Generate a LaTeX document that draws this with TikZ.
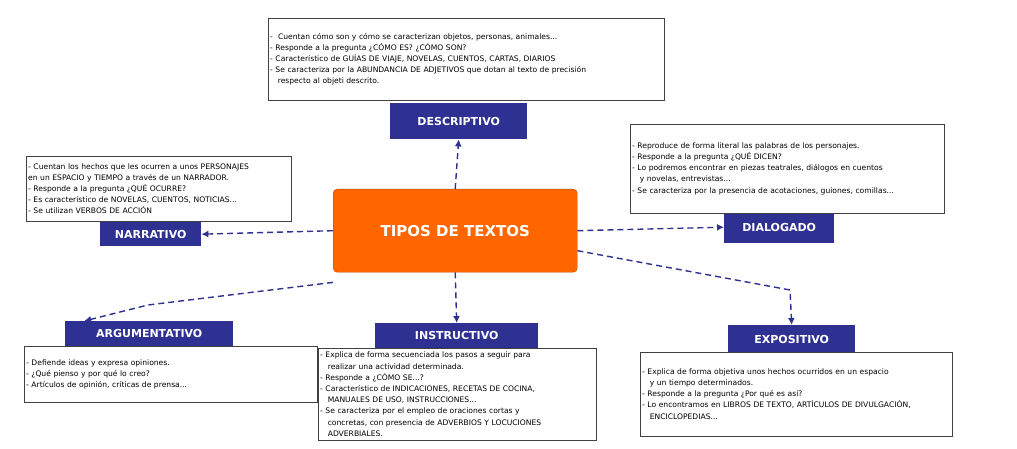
\documentclass[tikz,border=0pt]{standalone}
\usepackage{fontspec}
\setmainfont{DejaVu Sans}
\begin{document}
\begin{tikzpicture}[x=1pt,y=-1pt,
 txt/.style={draw=black!75,fill=white,anchor=north west,align=left,font=\fontsize{7.6}{11.2}\selectfont,inner xsep=2pt,inner ysep=3pt,drop shadow/.try},
 lab/.style={fill=navy,text=white,font=\bfseries\fontsize{11}{13}\selectfont,anchor=north west,inner sep=0pt,align=center},
 con/.style={draw=navy,dashed,line width=1.4pt,dash pattern=on 6pt off 4pt,-{Latex[length=7pt,width=7pt]}}]
\usetikzlibrary{arrows.meta}
\definecolor{navy}{HTML}{2E3192}
\definecolor{orng}{HTML}{FF6600}
\useasboundingbox (0,0) rectangle (1017,449);
% central
\node[fill=orng,draw=orng!70!black,rounded corners=4pt,minimum width=244pt,minimum height=83pt,anchor=north west,text=white,font=\bfseries\fontsize{15}{18}\selectfont] (c) at (333,189) {TIPOS DE TEXTOS};
% labels
\node[lab,minimum width=137pt,minimum height=36pt] (d) at (390,103) {DESCRIPTIVO};
\node[lab,minimum width=101pt,minimum height=24pt] (n) at (100,222) {NARRATIVO};
\node[lab,minimum width=110pt,minimum height=32pt] (g) at (724,211) {DIALOGADO};
\node[lab,minimum width=168pt,minimum height=25pt] (a) at (65,321) {ARGUMENTATIVO};
\node[lab,minimum width=163pt,minimum height=25pt] (i) at (375,323) {INSTRUCTIVO};
\node[lab,minimum width=127pt,minimum height=28pt] (e) at (728,325) {EXPOSITIVO};
% text boxes
\node[txt,text width=392pt,minimum height=82pt] (dt) at (268,18) {-\ \ Cuentan cómo son y cómo se caracterizan objetos, personas, animales...\\- Responde a la pregunta ¿CÓMO ES? ¿CÓMO SON?\\- Característico de GUÍAS DE VIAJE, NOVELAS, CUENTOS, CARTAS, DIARIOS\\- Se caracteriza por la ABUNDANCIA DE ADJETIVOS que dotan al texto de precisión\\\ \ \ respecto al objeti descrito.};
\node[txt,text width=261pt,minimum height=65pt] (nt) at (26,156) {- Cuentan los hechos que les ocurren a unos PERSONAJES\\en un ESPACIO y TIEMPO a través de un NARRADOR.\\- Responde a la pregunta ¿QUÉ OCURRE?\\- Es característico de NOVELAS, CUENTOS, NOTICIAS...\\- Se utilizan VERBOS DE ACCIÓN};
\node[txt,text width=310pt,minimum height=89pt] (gt) at (630,124) {- Reproduce de forma literal las palabras de los personajes.\\- Responde a la pregunta ¿QUÉ DICEN?\\- Lo podremos encontrar en piezas teatrales, diálogos en cuentos\\\ \ \ y novelas, entrevistas...\\- Se caracteriza por la presencia de acotaciones, guiones, comillas...};
\node[txt,text width=289pt,minimum height=56pt] (at) at (24,346) {- Defiende ideas y expresa opiniones.\\- ¿Qué pienso y por qué lo creo?\\- Artículos de opinión, críticas de prensa...};
\node[txt,text width=274pt,minimum height=92pt] (it) at (318,348) {- Explica de forma secuenciada los pasos a seguir para\\\ \ \ realizar una actividad determinada.\\- Responde a ¿CÓMO SE...?\\- Característico de INDICACIONES, RECETAS DE COCINA,\\\ \ \ MANUALES DE USO, INSTRUCCIONES...\\- Se caracteriza por el empleo de oraciones cortas y\\\ \ \ concretas, con presencia de ADVERBIOS Y LOCUCIONES\\\ \ \ ADVERBIALES.};
\node[txt,text width=308pt,minimum height=84pt] (et) at (640,352) {\\[-6pt]- Explica de forma objetiva unos hechos ocurridos en un espacio\\\ \ \ y un tiempo determinados.\\- Responde a la pregunta ¿Por qué es así?\\- Lo encontramos en LIBROS DE TEXTO, ARTÍCULOS DE DIVULGACIÓN,\\\ \ \ ENCICLOPEDIAS...};
% connectors
\coordinate (ka) at (148,305);
\coordinate (ke) at (790,290);
\draw[con] (c.north) -- (d.south);
\draw[con] (c.west) -- (n.east);
\draw[con] (c.east) -- (g.west);
\draw[con] (c.south) -- (i.north);
\draw[con] ([yshift=-10pt]c.south west) -- (ka) -- ([xshift=-65pt]a.north);
\draw[con] ([yshift=-20pt]c.east) -- (ke) -- (e.north);
\end{tikzpicture}
\end{document}
